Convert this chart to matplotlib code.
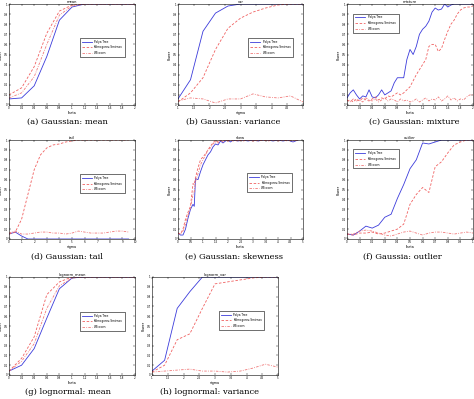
import numpy as np
import matplotlib
matplotlib.use("Agg")
import matplotlib.pyplot as plt

W, H = 474, 399

labels = ["Polya Tree", "Kolmogorov-Smirnov", "Wilcoxon"]

# (a) Gaussian: mean
a_x = [0, 0.2, 0.4, 0.6, 0.8, 1.0, 1.2, 1.4, 1.6, 1.8, 2.0]
a_pt = [0.06, 0.07, 0.19, 0.48, 0.84, 0.97, 1.0, 1.0, 1.0, 1.0, 1.0]
a_ks = [0.10, 0.17, 0.38, 0.71, 0.93, 0.99, 1.0, 1.0, 1.0, 1.0, 1.0]
a_wx = [0.07, 0.12, 0.28, 0.60, 0.89, 0.98, 1.0, 1.0, 1.0, 1.0, 1.0]

# (b) Gaussian: variance
b_x = [1.0, 1.4, 1.8, 2.2, 2.6, 3.0, 3.4, 3.8, 4.2, 4.6, 5.0]
b_pt = [0.06, 0.25, 0.73, 0.91, 0.98, 1.0, 1.0, 1.0, 1.0, 1.0, 1.0]
b_ks = [0.03, 0.12, 0.27, 0.55, 0.76, 0.86, 0.92, 0.96, 0.99, 1.0, 1.0]
b_wx = [0.04, 0.07, 0.06, 0.02, 0.06, 0.06, 0.11, 0.08, 0.07, 0.09, 0.03]

# (c) Gaussian: mixture
c_x = [0, 0.05, 0.1, 0.15, 0.2, 0.25, 0.3, 0.35, 0.4, 0.45, 0.5, 0.55, 0.6, 0.65,
       0.7, 0.75, 0.8, 0.85, 0.9, 0.95, 1.0, 1.05, 1.1, 1.15, 1.2, 1.25, 1.3, 1.35,
       1.4, 1.45, 1.5, 1.55, 1.6, 1.65, 1.7, 1.75, 1.8, 1.85, 1.9, 1.95, 2.0]
c_pt = [0.07, 0.12, 0.15, 0.10, 0.06, 0.09, 0.08, 0.15, 0.08, 0.07, 0.10, 0.15, 0.10,
        0.12, 0.14, 0.22, 0.27, 0.27, 0.27, 0.45, 0.55, 0.50, 0.58, 0.70, 0.75, 0.78,
        0.83, 0.92, 0.96, 0.94, 0.95, 1.0, 0.97, 0.99, 1.0, 1.0, 1.0, 1.0, 1.0, 1.0, 1.0]
c_ks = [0.04, 0.05, 0.03, 0.06, 0.04, 0.07, 0.05, 0.04, 0.06, 0.08, 0.05, 0.07, 0.06,
        0.09, 0.08, 0.10, 0.12, 0.10, 0.12, 0.15, 0.18, 0.24, 0.30, 0.35, 0.40, 0.45,
        0.58, 0.60, 0.60, 0.53, 0.56, 0.65, 0.73, 0.80, 0.84, 0.90, 0.94, 0.96, 0.97,
        0.97, 0.98]
c_wx = [0.05, 0.03, 0.06, 0.04, 0.05, 0.03, 0.07, 0.05, 0.04, 0.06, 0.03, 0.05, 0.07,
        0.04, 0.06, 0.05, 0.03, 0.06, 0.04, 0.05, 0.03, 0.04, 0.06, 0.03, 0.05, 0.07,
        0.04, 0.06, 0.05, 0.08, 0.04, 0.06, 0.09, 0.05, 0.07, 0.04, 0.06, 0.05, 0.08,
        0.10, 0.10]

# (d) Gaussian: tail
d_x = [0, 0.5, 1, 1.5, 2, 2.5, 3, 3.5, 4, 4.5, 5, 5.5, 6, 6.5, 7, 7.5, 8, 8.5, 9, 9.5]
d_pt = [0.05, 0.07, 0.03, 0.0, 0.0, 0.0, 0.0, 0.0, 0.0, 0.0, 0.0, 0.0, 0.0, 0.0, 0.0,
        0.0, 0.0, 0.0, 0.0, 0.0]
d_ks = [0.05, 0.07, 0.20, 0.45, 0.70, 0.85, 0.92, 0.95, 0.96, 0.98, 0.99, 1.0, 1.0,
        1.0, 1.0, 1.0, 1.0, 1.0, 1.0, 1.0]
d_wx = [0.06, 0.08, 0.05, 0.05, 0.06, 0.07, 0.07, 0.06, 0.06, 0.05, 0.06, 0.08, 0.07,
        0.06, 0.06, 0.06, 0.07, 0.08, 0.08, 0.07]

# (e) Gaussian: skewness
e_x = [0, 0.1, 0.2, 0.3, 0.4, 0.5, 0.6, 0.65, 0.7, 0.8, 0.9, 1.0, 1.1, 1.2, 1.3, 1.4,
       1.5, 1.6, 1.7, 1.8, 1.9, 2.0, 2.1, 2.2, 2.4, 2.6, 2.8, 3.0, 3.2, 3.4, 3.6, 3.8,
       4.0, 4.2, 4.4, 4.6, 4.8]
e_pt = [0.06, 0.04, 0.04, 0.10, 0.21, 0.30, 0.35, 0.33, 0.61, 0.60, 0.68, 0.75, 0.80,
        0.85, 0.88, 0.93, 0.96, 0.95, 0.99, 0.97, 0.99, 1.0, 0.98, 1.0, 0.99, 1.0, 0.99,
        1.0, 0.99, 1.0, 1.0, 0.99, 1.0, 0.99, 1.0, 0.98, 1.0]
e_ks = [0.06, 0.05, 0.10, 0.20, 0.27, 0.33, 0.56, 0.55, 0.62, 0.72, 0.80, 0.83, 0.86,
        0.90, 0.94, 0.97, 1.0, 0.98, 1.0, 0.99, 1.0, 0.99, 1.0, 1.0, 0.99, 1.0, 1.0,
        0.99, 1.0, 1.0, 0.99, 1.0, 1.0, 1.0, 0.99, 1.0, 1.0]
e_wx = [0.06, 0.05, 0.08, 0.15, 0.24, 0.32, 0.45, 0.48, 0.58, 0.66, 0.75, 0.80, 0.85,
        0.90, 0.92, 0.96, 0.98, 0.97, 1.0, 0.98, 1.0, 0.99, 1.0, 0.99, 1.0, 0.99, 1.0,
        1.0, 0.99, 1.0, 1.0, 1.0, 0.99, 1.0, 1.0, 0.99, 1.0]

# (f) Gaussia: outlier
f_x = [0, 0.05, 0.1, 0.15, 0.2, 0.25, 0.3, 0.35, 0.4, 0.45, 0.5, 0.55, 0.6, 0.65, 0.7,
       0.75, 0.8, 0.85, 0.9, 0.95, 1.0]
f_pt = [0.05, 0.04, 0.08, 0.13, 0.11, 0.14, 0.22, 0.25, 0.41, 0.55, 0.71, 0.80, 0.97,
        0.96, 0.98, 1.0, 1.0, 1.0, 1.0, 1.0, 1.0]
f_ks = [0.05, 0.04, 0.06, 0.06, 0.07, 0.05, 0.06, 0.08, 0.10, 0.15, 0.35, 0.45, 0.52,
        0.47, 0.73, 0.78, 0.87, 0.95, 0.98, 1.0, 1.0]
f_wx = [0.05, 0.05, 0.08, 0.09, 0.08, 0.06, 0.04, 0.03, 0.05, 0.07, 0.08, 0.06, 0.04,
        0.06, 0.07, 0.07, 0.06, 0.05, 0.06, 0.07, 0.06]

# (g) lognormal: mean
g_x = [0, 0.2, 0.4, 0.6, 0.8, 1.0, 1.2, 1.4, 1.6, 1.8, 2.0]
g_pt = [0.04, 0.10, 0.27, 0.58, 0.88, 0.99, 1.0, 1.0, 1.0, 1.0, 1.0]
g_ks = [0.04, 0.17, 0.39, 0.82, 0.95, 1.0, 1.0, 1.0, 1.0, 1.0, 1.0]
g_wx = [0.04, 0.14, 0.32, 0.68, 0.91, 0.99, 1.0, 1.0, 1.0, 1.0, 1.0]

# (h) lognormal: variance
h_x = [1.0, 1.4, 1.8, 2.2, 2.6, 3.0, 3.4, 3.8, 4.2, 4.6, 5.0]
h_pt = [0.04, 0.15, 0.68, 0.85, 1.0, 1.0, 1.0, 1.0, 1.0, 1.0, 1.0]
h_ks = [0.03, 0.10, 0.36, 0.42, 0.68, 0.93, 0.95, 0.97, 0.99, 1.0, 1.0]
h_wx = [0.03, 0.04, 0.05, 0.06, 0.04, 0.04, 0.03, 0.04, 0.07, 0.11, 0.08]

panels = [
    # x, series, title, xlabel, xlim, xticks, legend anchor, rect px (l, t, r, b), caption, caption x, y
    (a_x, (a_pt, a_ks, a_wx), "mean", "theta", (0, 2), np.arange(0, 2.01, 0.2),
     (0.55, 0.68), (9, 4, 135, 105), "(a) Gaussian: mean", 67, 122),
    (b_x, (b_pt, b_ks, b_wx), "var", "sigma", (1, 5), np.arange(1, 5.01, 0.5),
     (0.55, 0.68), (178, 4, 303, 105), "(b) Gaussian: variance", 233, 122),
    (c_x, (c_pt, c_ks, c_wx), "mixture", "theta", (0, 2), np.arange(0, 2.01, 0.2),
     (0.04, 0.92), (347, 4, 473, 105), "(c) Gaussian: mixture", 414, 122),
    (d_x, (d_pt, d_ks, d_wx), "tail", "sigma", (0, 10), np.arange(0, 10.01, 1),
     (0.55, 0.67), (9, 140, 135, 239), "(d) Gaussian: tail", 67, 257),
    (e_x, (e_pt, e_ks, e_wx), "skew", "theta", (0, 5), np.arange(0, 5.01, 0.5),
     (0.54, 0.68), (178, 140, 303, 239), "(e) Gaussian: skewness", 234, 257),
    (f_x, (f_pt, f_ks, f_wx), "outlier", "theta", (0, 1), np.arange(0, 1.01, 0.1),
     (0.04, 0.92), (347, 140, 473, 239), "(f) Gaussia: outlier", 402, 257),
    (g_x, (g_pt, g_ks, g_wx), "lognorm_mean", "theta", (0, 2), np.arange(0, 2.01, 0.2),
     (0.55, 0.66), (9, 277, 135, 375), "(g) lognormal: mean", 68, 392),
    (h_x, (h_pt, h_ks, h_wx), "lognorm_var", "sigma", (1, 5), np.arange(1, 5.01, 0.5),
     (0.52, 0.67), (152, 277, 278, 375), "(h) lognormal: variance", 209, 392),
]

styles = [dict(color="#3b3bdb", ls="-"),
          dict(color="#f06060", ls=(0, (3, 2))),
          dict(color="#f07a7a", ls=(0, (3, 1.5, 1, 1.5)))]

fig = plt.figure(figsize=(W / 100, H / 100), dpi=100)

for x, series, title, xlabel, xlim, xticks, lloc, rect, cap, cx, cy in panels:
    l, t, r, b = rect
    ax = fig.add_axes([l / W, 1 - b / H, (r - l) / W, (b - t) / H])
    for y, lab, st in zip(series, labels, styles):
        ax.plot(x, y, lw=0.6, label=lab, **st)
    ax.set_xlim(*xlim)
    ax.set_ylim(0, 1)
    ax.set_xticks(xticks)
    ax.set_xticklabels(["%g" % v for v in xticks])
    yt = np.arange(0, 1.01, 0.1)
    ax.set_yticks(yt)
    ax.set_yticklabels(["%g" % v for v in yt])
    ax.tick_params(direction="in", top=True, right=True, length=1.5, width=0.3,
                   labelsize=2.0, pad=0.8)
    for s in ax.spines.values():
        s.set_linewidth(0.4)
    ax.set_title(title, fontsize=2.6, pad=1)
    ax.set_xlabel(xlabel, fontsize=2.4, labelpad=0.5)
    ax.set_ylabel("Power", fontsize=2.4)
    ax.yaxis.set_label_coords(-6.5 / (r - l), 0.5)
    leg = ax.legend(loc="upper left", bbox_to_anchor=lloc, fontsize=2.1,
                    handlelength=3.5, borderpad=0.6, labelspacing=0.6,
                    fancybox=False, framealpha=1, edgecolor="black")
    leg.get_frame().set_linewidth(0.4)
    fig.text(cx / W, 1 - cy / H, cap, ha="center", va="center",
             fontsize=6, family="DejaVu Serif")

fig.savefig("out.png", dpi=100)
